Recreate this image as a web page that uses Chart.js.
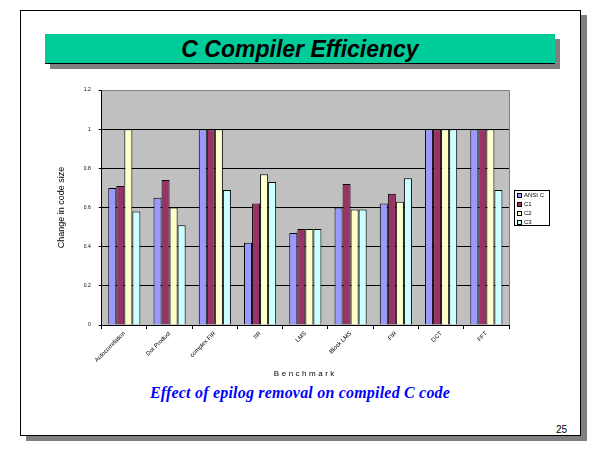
<!DOCTYPE html>
<html><head><meta charset="utf-8">
<script src="https://cdn.jsdelivr.net/npm/chart.js@4"></script>
<style>
html,body{margin:0;padding:0;width:600px;height:450px;background:#fff;overflow:hidden;font-family:Arial,"Liberation Sans",sans-serif;}
#frame{position:absolute;left:20px;top:10px;width:559px;height:424px;border:1px solid #000;box-shadow:6px 5px 0 #808080;background:#fff;}
#titlebar{position:absolute;left:45px;top:34px;width:510px;height:29px;background:#00CC99;border-bottom:1px solid #000;box-shadow:5px 5px 0 #808080;text-align:center;font:italic bold 23px Arial,"Liberation Sans",sans-serif;line-height:30px;color:#000;}
#caption{position:absolute;left:0;top:385px;width:600px;text-align:center;font:italic bold 16px "Times New Roman","Liberation Serif",serif;letter-spacing:0.2px;line-height:16px;color:#0000FF;}
#page{position:absolute;left:556px;top:425px;font:10px Arial,"Liberation Sans",sans-serif;line-height:10px;color:#000;}
#c{position:absolute;left:0;top:0;}
</style></head>
<body>
<div id="frame"></div>
<div id="titlebar">C Compiler Efficiency</div>
<div id="caption">Effect of epilog removal on compiled C code</div>
<div id="page">25</div>
<canvas id="c" width="600" height="450"></canvas>
<script>
const categories = ["Autocorrelation","Dot Product","complex FIR","IIR","LMS","Block LMS","FIR","DCT","FFT"];
const seriesNames = ["ANSI C","C1","C2","C3"];
const ansiC = [0.70,0.65,1.00,0.42,0.47,0.60,0.62,1.00,1.00];
const c1    = [0.71,0.74,1.00,0.62,0.49,0.72,0.67,1.00,1.00];
const c2    = [1.00,0.60,1.00,0.77,0.49,0.59,0.63,1.00,1.00];
const c3    = [0.58,0.51,0.69,0.73,0.49,0.59,0.75,1.00,0.69];
const yTickLabels = ["0","0.2","0.4","0.6","0.8","1","1.2"];
const xTitle = "Benchmark";
const yTitle = "Change in code size";

const colors = ["#9999FF","#993366","#FFFFCC","#CCFFFF"];
const seriesValues = [ansiC, c1, c2, c3];

const plotBg = {
  id:'plotBg',
  beforeDraw(chart){
    const {ctx, chartArea:a} = chart;
    ctx.save(); ctx.fillStyle='#C0C0C0';
    ctx.fillRect(a.left,a.top,a.right-a.left,a.bottom-a.top);
    ctx.restore();
  },
  afterDatasetsDraw(chart){
    const {ctx, chartArea:a} = chart;
    ctx.save(); ctx.strokeStyle='#808080'; ctx.lineWidth=1;
    ctx.beginPath();
    ctx.moveTo(a.left, a.top+0.5); ctx.lineTo(a.right+0.5, a.top+0.5);
    ctx.lineTo(a.right+0.5, a.bottom);
    ctx.stroke(); ctx.restore();
  }
};

const boxLegend = {
  id:'boxLegend',
  afterDraw(chart){
    const {ctx, chartArea:a} = chart;
    const ds = chart.data.datasets;
    const w = 35, rowH = 9, h = 35;
    const x = Math.round(a.right + 5) + 0.5;
    const y = Math.round((a.top + a.bottom)/2 - h/2) + 0.5;
    ctx.save();
    ctx.fillStyle='#fff'; ctx.fillRect(x,y,w,h);
    ctx.strokeStyle='#000'; ctx.lineWidth=1; ctx.strokeRect(x,y,w,h);
    ctx.font='6px Arial, "Liberation Sans", sans-serif';
    ctx.textBaseline='middle'; ctx.textAlign='left';
    ds.forEach((d,i)=>{
      const cy = y + 4.5 + rowH*i;
      ctx.fillStyle=d.backgroundColor;
      ctx.fillRect(x+3, Math.round(cy-2)+0.5, 4, 4);
      ctx.strokeStyle='#000';
      ctx.strokeRect(x+3, Math.round(cy-2)+0.5, 4, 4);
      ctx.fillStyle='#000';
      ctx.fillText(d.label, x+9.5, cy+0.5);
    });
    ctx.restore();
  }
};

const titleSpacing = {
  id:'titleSpacing',
  afterLayout(chart){
    const s = chart.scales.x;
    if (s && !s.__wrapped){
      const orig = s.drawTitle;
      s.drawTitle = function(){
        const c = this.ctx; c.save();
        try { c.letterSpacing = '2.5px'; } catch(e) {}
        orig.apply(this, arguments);
        c.restore();
      };
      s.__wrapped = true;
    }
  }
};

new Chart(document.getElementById('c'), {
  type:'bar',
  data:{
    labels: categories,
    datasets: seriesNames.map((n,i)=>({
      label:n, data:seriesValues[i], backgroundColor:colors[i],
      borderColor:'#000', borderWidth:1,
      categoryPercentage:0.71, barPercentage:1.0
    }))
  },
  options:{
    responsive:false, animation:false, devicePixelRatio:1,
    layout:{padding:{left:50, top:90, right:91, bottom:65}},
    plugins:{legend:{display:false}, tooltip:{enabled:false}},
    scales:{
      x:{
        offset:true,
        grid:{display:true, offset:true, drawOnChartArea:false, drawTicks:true, tickLength:4, color:'#000'},
        border:{display:true, color:'#000', width:1},
        ticks:{font:{family:'Arial, "Liberation Sans", sans-serif', size:6}, color:'#000', minRotation:45, maxRotation:45, padding:1, autoSkip:false},
        title:{display:true, text:xTitle, color:'#000', font:{family:'Arial, "Liberation Sans", sans-serif', size:8}, padding:{top:0,bottom:6}},
        afterFit(s){ s.height = 60; }
      },
      y:{
        min:0, max:1.2,
        ticks:{stepSize:0.2, color:'#000', padding:8, font:{family:'Arial, "Liberation Sans", sans-serif', size:5},
          callback:(v,i)=>yTickLabels[i]},
        grid:{color:(ctx)=> (ctx.tick && ctx.tick.value > 1.19) ? '#808080' : '#000', tickColor:'#000', tickLength:3, drawTicks:true, lineWidth:1},
        border:{display:true, color:'#000', width:1},
        title:{display:true, text:yTitle, color:'#000', font:{family:'Arial, "Liberation Sans", sans-serif', size:9}, padding:{top:6.6,bottom:0}},
        afterFit(s){ s.width = 51.7; }
      }
    }
  },
  plugins:[plotBg, boxLegend, titleSpacing]
});
</script>
</body></html>
